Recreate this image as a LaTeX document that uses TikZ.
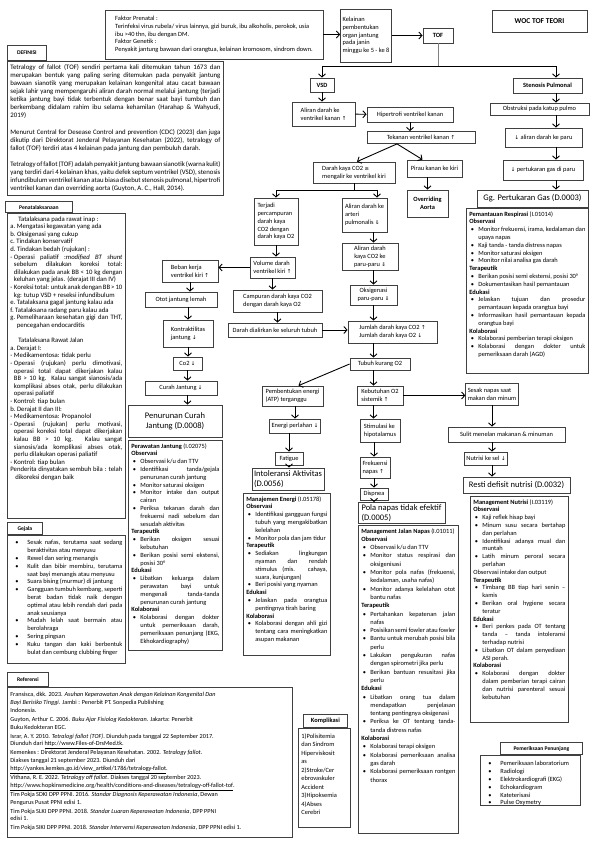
\documentclass[tikz,border=0pt]{standalone}
\usepackage{fontspec}
\setmainfont{Carlito}
\newfontfamily\symf{DejaVu Sans}[Scale=0.85]
\usetikzlibrary{positioning,arrows.meta}

\newcommand{\fs}{\fontsize{6.4}{7.8}\selectfont}
\newcommand{\bigf}{\fontsize{8.5}{10}\selectfont}
\newcommand{\tabf}{\fontsize{5.6}{7}\selectfont\bfseries}
\newcommand{\up}{{\symf\char"2191}}
\newcommand{\dn}{{\symf\char"2193}}
\newcommand{\Dn}{{\symf\char"21D3}}
\newcommand{\gte}{{\symf\char"2265}}
% text helpers for the panels
\newcommand{\pfmt}{\fs\tolerance=9999\emergencystretch=3em\hyphenpenalty=10000\parindent=0pt}
\newcommand{\hd}[1]{\par\noindent\textbf{#1}\par}
\newcommand{\itm}[1]{\par\hangindent=9pt\hangafter=1\noindent\makebox[9pt][l]{\hspace{1.5pt}\textbullet}#1\par}
\newcommand{\gitm}[1]{\par\hangindent=17pt\hangafter=1\noindent\makebox[17pt][l]{\hspace{5pt}\textbullet}#1\par}
\newcommand{\li}[2]{\par\setbox0\hbox{#1\ }\hangindent=\wd0\hangafter=1\noindent\box0 #2\par}
\newcommand{\rf}[1]{\par\hangindent=36pt\hangafter=1\noindent #1\par\vspace{1.2pt}}

\begin{document}
\begin{tikzpicture}[x=1pt,y=-1pt,
box/.style={draw=black!75,line width=0.8pt,fill=white,inner sep=2pt,align=left,font=\fs},
title/.style={box,font=\bigf,align=center},
sz/.style n args={2}{minimum width=#1pt,minimum height=#2pt},
panel/.style={draw=black!75,line width=0.8pt,inner sep=3pt,anchor=north west},
tab/.style={draw=black!75,line width=0.8pt,inner sep=2pt,anchor=south west,font=\tabf,align=left},
arrow/.style={-{Straight Barb[length=3.2pt,width=7pt]},line width=0.9pt}
]
\useasboundingbox[fill=white] (0,0) rectangle (595,842);

% top row
\node[box,sz={218}{49}] (faktor) at (214,34.5) {Faktor Prenatal :\\Terinfeksi virus rubela/ virus lainnya, gizi buruk, ibu alkoholis, perokok, usia\\ibu >40 thn, ibu dengan DM.\\Faktor Genetik :\\Penyakit jantung bawaan dari orangtua, kelainan kromosom, sindrom down.};
\node[box,sz={48}{53}] (kelainan) at (366,35.5) {Kelainan\\pembentukan\\organ jantung\\pada janin\\minggu ke 5 - ke 8};
\node[box,sz={30}{15},font=\fs\bfseries] (tof) at (438,35.5) {TOF};
\node[box,sz={95}{22},font=\fontsize{7.5}{9}\selectfont\bfseries] (woc) at (539.5,21) {WOC TOF TEORI};

\draw[arrow] (faktor.east) -- (faktor.east -| kelainan.west);
\draw[arrow] (kelainan) -- (tof);

% definisi
\node[panel] (defbox) at (7,61) {\parbox[t][128pt][t]{210pt}{\pfmt\fontsize{6.8}{8.1}\selectfont
Tetralogy of fallot (TOF) sendiri pertama kali ditemukan tahun 1673 dan merupakan bentuk yang paling sering ditemukan pada penyakit jantung bawaan sianotik yang merupakan kelainan kongenital atau cacat bawaan sejak lahir yang mempengaruhi aliran darah normal melalui jantung (terjadi ketika jantung bayi tidak terbentuk dengan benar saat bayi tumbuh dan berkembang didalam rahim ibu selama kehamilan (Harahap \& Wahyudi, 2019)\par\vspace{8pt}
Menurut Central for Desease Control and prevention (CDC) (2023) dan juga dikutip dari Direktorat Jenderal Pelayanan Kesehatan (2022), tetralogy of fallot (TOF) terdiri atas 4 kelainan pada jantung dan pembuluh darah.\par\vspace{8pt}
Tetralogy of fallot (TOF) adalah penyakit jantung bawaan sianotik (warna kulit) yang terdiri dari 4 kelainan khas, yaitu defek septum ventrikel (VSD), stenosis infundibulum ventrikel kanan atau biasa disebut stenosis pulmonal, hipertrofi ventrikel kanan dan overriding aorta (Guyton, A. C., Hall, 2014).}};
\node[tab,sz={39}{15}] (deftab) at (defbox.north west) {DEFINISI};

% branch from TOF
\coordinate (brL) at (322,66);
\coordinate (brR) at (556,66);
\node[box,sz={24}{14},font=\fs\bfseries] (vsd) at (322,85) {VSD};
\node[box,sz={69}{15},font=\fs\bfseries] (stenosis) at (547.5,85.5) {Stenosis Pulmonal};
\draw[gray,line width=1pt] (tof.south) -- (tof.south |- brL);
\draw[line width=0.9pt] (brL) -- (brR);
\draw[arrow] (brL) -- (vsd.north);
\draw[arrow] (brR) -- (brR |- stenosis.north);

% VSD branch
\node[box,sz={63}{24}] (aliran1) at (323.5,114) {Aliran darah ke\\ventrikel kanan \up};
\node[box,sz={86}{15}] (hipertrofi) at (410,114.5) {Hipertrofi ventrikel kanan};
\node[box,sz={108}{12}] (tekanan) at (421,137.5) {Tekanan ventrikel kanan \up};
\node[box,sz={82}{21}] (darahco2) at (354,172.5) {Darah kaya CO2 \gte\\mengalir ke ventrikel kiri};
\node[box,sz={55}{17}] (pirau) at (434.5,168.5) {Pirau kanan ke kiri};
\node[box,sz={41}{27},font=\fs\bfseries,align=center] (overriding) at (427.5,203.5) {Overriding\\Aorta};

\draw[arrow] (vsd.south) -- (vsd.south |- aliran1.north);
\draw[arrow] (aliran1) -- (hipertrofi);
\draw[arrow] (hipertrofi.south) -- (hipertrofi.south |- tekanan.north);
\draw[arrow] ([xshift=-24pt]tekanan.south) -- ([xshift=3pt]darahco2.north);
\draw[arrow] ([xshift=-24pt]tekanan.south) -- ([xshift=-12pt]pirau.north);
\draw[arrow] (pirau.south -| overriding.north) -- (overriding.north);

\coordinate (brC1) at (276,190);
\coordinate (brC2) at (377,190);
\node[box,sz={44}{47}] (terjadi) at (276,221.5) {Terjadi\\percampuran\\darah kaya\\CO2 dengan\\darah kaya O2};
\node[box,sz={45}{34}] (aliran2) at (364.5,215) {Aliran darah ke\\arteri\\pulmonalis \Dn};
\draw[line width=0.9pt] (darahco2.south) -- (darahco2.south |- brC1);
\draw[line width=0.9pt] (brC1) -- (brC2);
\draw[arrow] (brC1) -- (terjadi.north);
\draw[arrow] (brC2) -- (brC2 |- aliran2.north);

% left side of the mixing
\node[box,sz={45}{21}] (volume) at (272.5,267.5) {Volume darah\\ventrikel kiri \up};
\node[box,sz={56}{22}] (beban) at (190,271) {Beban kerja\\ventrikel kiri \up};
\node[box,sz={72}{15}] (otot) at (181,299.5) {Otot jantung lemah};
\node[box,sz={50}{27}] (kontrak) at (188,333.5) {Kontraktilitas\\jantung \dn};
\node[box,sz={29}{13}] (co2) at (187.5,363.5) {Co2 \dn};
\node[box,sz={72}{14}] (curah) at (181,388) {Curah Jantung \dn};
\node[title,sz={94}{32}] (penurunan) at (175,421) {Penurunan Curah\\Jantung (D.0008)};
\node[box,sz={89}{22}] (campuran) at (277.5,301) {Campuran darah kaya CO2\\dengan darah kaya O2};
\node[box,sz={94}{14}] (dialirkan) at (275,330) {Darah dialirkan ke seluruh tubuh};

\draw[arrow] (terjadi.south) -- (terjadi.south |- volume.north);
\draw[arrow] (volume.west) -- (volume.west -| beban.east);
\draw[arrow] (volume.south) -- (volume.south |- campuran.north);
\draw[arrow] (campuran.south) -- (campuran.south |- dialirkan.north);
\draw[arrow] (beban.south) -- (beban.south |- otot.north);
\draw[arrow] (otot.south -| kontrak) -- (kontrak.north);
\draw[arrow] (kontrak.south) -- (kontrak.south |- co2.north);
\draw[arrow] (co2.south) -- (co2.south |- curah.north);
\draw[arrow] (curah.south -| co2) -- (penurunan.north -| co2);

% right side of the mixing
\node[box,sz={56}{27},align=center] (aliran3) at (370,256.5) {Aliran darah\\kaya CO2 ke\\paru-paru \Dn};
\node[box,sz={47}{20},align=center] (oksigenasi) at (373.5,295) {Oksigenasi\\paru-paru \Dn};
\node[box,sz={89}{22}] (jumlah) at (392.5,332) {Jumlah darah kaya CO2 \up\\Jumlah darah kaya O2 \dn};
\node[box,sz={60}{12}] (tubuh) at (380,364) {Tubuh kurang O2};

\draw[arrow] (aliran2.south -| oksigenasi) -- (aliran3.north -| oksigenasi);
\draw[arrow] (aliran3.south -| oksigenasi) -- (oksigenasi.north);
\draw[arrow] (oksigenasi.south) -- (oksigenasi.south |- jumlah.north);
\draw[arrow] (dialirkan.east) -- (dialirkan.east -| jumlah.west);
\draw[arrow] (jumlah.south -| oksigenasi) -- (tubuh.north -| oksigenasi);

% below Tubuh kurang O2
\node[box,sz={61}{20}] (pembentukan) at (292.5,396) {Pembentukan energi\\(ATP) terganggu};
\node[box,sz={46}{19}] (kebutuhan) at (380,395.5) {Kebutuhan O2\\sistemik \up};
\node[box,sz={52}{22}] (sesak) at (492,394) {Sesak napas saat\\makan dan minum};
\node[box,sz={117}{15}] (sulit) at (506.5,434.5) {Sulit menelan makanan \& minuman};
\node[box,sz={38}{13}] (nutrisi) at (486,458.5) {Nutrisi ke sel \dn};
\node[title,sz={107}{16}] (resti) at (516.5,485) {Resti defisit nutrisi (D.0032)};
\node[box,sz={50}{14}] (energi) at (295,426) {Energi perlahan \dn};
\node[box,sz={28}{13}] (fatigue) at (289,458.5) {Fatigue};
\node[title,sz={70}{22},align=left] (intoleransi) at (288,479) {Intoleransi Aktivitas\\(D.0056)};
\node[box,sz={40}{23}] (stimulasi) at (380,430.5) {Stimulasi ke\\hipotalamus};
\node[box,sz={30}{21}] (frekuensi) at (375,467.5) {Frekuensi\\napas \up};
\node[box,sz={28}{12}] (dispnea) at (374,494) {Dispnea};
\node[title,sz={87}{20},align=left] (pola) at (401.5,513) {Pola napas tidak efektif\\(D.0005)};

\draw[arrow] (tubuh.west) -- ([xshift=6pt]pembentukan.north);
\draw[arrow] (tubuh.south -| oksigenasi) -- (kebutuhan.north -| oksigenasi);
\draw[arrow] (kebutuhan.east) -- (kebutuhan.east -| sesak.west);
\draw[arrow] (kebutuhan.south -| oksigenasi) -- (stimulasi.north -| oksigenasi);
\draw[arrow] (stimulasi.south -| dispnea) -- (frekuensi.north -| dispnea);
\draw[arrow] (frekuensi.south -| dispnea) -- (dispnea.north);
\draw[arrow] (dispnea.south) -- (dispnea.south |- pola.north);
\draw[arrow] (pembentukan.south -| energi) -- (energi.north);
\draw[arrow] (energi.south -| fatigue) -- (fatigue.north);
\draw[arrow] (fatigue.south) -- (fatigue.south |- intoleransi.north);
\draw[arrow] (sesak.south) -- (sesak.south |- sulit.north);
\draw[arrow] (sulit.south -| sesak) -- (nutrisi.north -| sesak);
\draw[arrow] (nutrisi.south -| sesak) -- (resti.north -| sesak);

% stenosis pulmonal branch
\node[box,sz={99}{12}] (obstruksi) at (539.5,109) {Obstruksi pada katup pulmo};
\node[box,sz={77}{19}] (aliranparu) at (543.5,137.5) {\dn{} aliran darah ke paru};
\node[box,sz={80}{20}] (pertukaran) at (543,170) {\dn{} pertukaran gas di paru};
\node[title,sz={111}{17}] (ggpertukaran) at (532.5,198.5) {Gg. Pertukaran Gas (D.0003)};

\draw[arrow] (stenosis.south -| brR) -- (obstruksi.north -| brR);
\draw[arrow] (obstruksi.south -| brR) -- (aliranparu.north -| brR);
\draw[arrow] (aliranparu.south -| brR) -- (pertukaran.north -| brR);
\draw[arrow] (pertukaran.south -| brR) -- (ggpertukaran.north -| brR);

% intervensi
\node[panel] (pemantauan) at (466,208) {\parbox[t][159pt][t]{116pt}{\pfmt
\textbf{Pemantauan Respirasi} (I.01014)
\hd{Observasi}
\itm{Monitor frekuensi, irama, kedalaman dan upaya napas}
\itm{Kaji tanda - tanda distress napas}
\itm{Monitor saturasi oksigen}
\itm{Monitor nilai analisa gas darah}
\hd{Terapeutik}
\itm{Berikan posisi semi ekstensi, posisi 30°}
\itm{Dokumentasikan hasil pemantauan}
\hd{Edukasi}
\itm{Jelaskan tujuan dan prosedur pemantauan kepada orangtua bayi}
\itm{Informasikan hasil pemantauan kepada orangtua bayi}
\hd{Kolaborasi}
\itm{Kolaborasi pemberian terapi oksigen}
\itm{Kolaborasi dengan dokter untuk pemeriksaan darah (AGD)}}};

\node[panel] (perawatan) at (128,440) {\parbox[t][204pt][t]{88pt}{\pfmt
\textbf{Perawatan Jantung} (I.02075)
\hd{Observasi}
\itm{Observasi k/u dan TTV}
\itm{Identifikasi tanda/gejala penurunan curah jantung}
\itm{Monitor saturasi oksigen}
\itm{Monitor intake dan output cairan}
\itm{Periksa tekanan darah dan frekuensi nadi sebelum dan sesudah aktivitas}
\hd{Terapeutik}
\itm{Berikan oksigen sesuai kebutuhan}
\itm{Berikan posisi semi ekstensi, posisi 30°}
\hd{Edukasi}
\itm{Libatkan keluarga dalam perawatan bayi untuk mengenali tanda-tanda penurunan curah jantung}
\hd{Kolaborasi}
\itm{Kolaborasi dengan dokter untuk pemeriksaan darah, pemeriksaan penunjang (EKG, Ekhokardiography)}}};

\node[panel] (manajemen) at (243,493) {\parbox[t][156pt][t]{81pt}{\pfmt
\textbf{Manajemen Energi} (I.05178)
\hd{Observasi}
\itm{Identifikasi gangguan fungsi tubuh yang mengakibatkan kelelahan}
\itm{Monitor pola dan jam tidur}
\hd{Terapeutik}
\itm{Sediakan lingkungan nyaman dan rendah stimulus (mis. cahaya, suara, kunjungan)}
\itm{Beri posisi yang nyaman}
\hd{Edukasi}
\itm{Jelaskan pada orangtua pentingnya tirah baring}
\hd{Kolaborasi}
\itm{Kolaborasi dengan ahli gizi tentang cara meningkatkan asupan makanan}}};

\node[panel] (jalannapas) at (358,525) {\parbox[t][302pt][t]{94pt}{\pfmt\fontsize{6.4}{8.3}\selectfont
\textbf{Management Jalan Napas} (I.01011)
\hd{Observasi}
\itm{Observasi k/u dan TTV}
\itm{Monitor status respirasi dan oksigenisasi}
\itm{Monitor pola nafas (frekuensi, kedalaman, usaha nafas)}
\itm{Monitor adanya kelelahan otot bantu nafas}
\hd{Terapeutik}
\itm{Pertahankan kepatenan jalan nafas}
\itm{Posisikan semi fowler atau fowler}
\itm{Bantu untuk merubah posisi bila perlu}
\itm{Lakukan pengukuran nafas dengan spirometri jika perlu}
\itm{Berikan bantuan resusitasi jika perlu}
\hd{Edukasi}
\itm{Libatkan orang tua dalam mendapatkan penjelasan tentang pentingnya oksigenasi}
\itm{Periksa ke OT tentang tanda-tanda distress nafas}
\hd{Kolaborasi}
\itm{Kolaborasi terapi oksigen}
\itm{Kolaborasi pemeriksaan analisa gas darah}
\itm{Kolaborasi pemeriksaan rontgen thorax}}};

\node[panel] (nutribox) at (470,496) {\parbox[t][220pt][t]{92pt}{\pfmt
\textbf{Management Nutrisi} (I.03119)
\hd{Observasi}
\itm{Kaji reflek hisap bayi}
\itm{Minum susu secara bertahap dan perlahan}
\itm{Identifikasi adanya mual dan muntah}
\itm{Latih minum peroral secara perlahan}
Observasi intake dan output
\hd{Terapeutik}
\itm{Timbang BB tiap hari senin – kamis}
\itm{Berikan oral hygiene secara teratur}
\hd{Edukasi}
\itm{Beri penkes pada OT tentang tanda – tanda intoleransi terhadap nutrisi}
\itm{Libatkan OT dalam penyediaan ASI perah.}
\hd{Kolaborasi}
\itm{Kolaborasi dengan dokter dalam pemberian terapi cairan dan nutrisi parenteral sesuai kebutuhan}}};

% penatalaksanaan
\node[panel] (penbox) at (7,213) {\parbox[t][299pt][t]{112pt}{\pfmt\fontsize{6.7}{7.6}\selectfont
\hspace*{8pt}Tatalaksana pada rawat inap :\par
\li{a.}{Mengatasi kegawatan yang ada}
\li{b.}{Oksigenasi yang cukup}
\li{c.}{Tindakan konservatif}
\li{d.}{Tindakan bedah (rujukan) :}
\li{-}{Operasi paliatif :\textit{modified BT shunt} sebelum dilakukan koreksi total: dilakukan pada anak BB < 10 kg dengan keluhan yang jelas. (derajat III dan IV)}
\li{-}{Koreksi total: untuk anak dengan BB > 10 kg: tutup VSD + reseksi infundibulum}
\li{e.}{Tatalaksana gagal jantung kalau ada}
\li{f.}{Tatalaksana radang paru kalau ada}
\li{g.}{Pemeliharaan kesehatan gigi dan THT, pencegahan endocarditis}
\vspace{7.6pt}
\hspace*{8pt}Tatalaksana Rawat Jalan\par
\li{a.}{Derajat I:}
\li{-}{Medikamentosa: tidak perlu}
\li{-}{Operasi (rujukan) perlu dimotivasi, operasi total dapat dikerjakan kalau BB > 10 kg. Kalau sangat sianosis/ada komplikasi abses otak, perlu dilakukan operasi paliatif}
\li{-}{Kontrol: tiap bulan}
\li{b.}{Derajat II dan III:}
\li{-}{Medikamentosa: Propanolol}
\li{-}{Operasi (rujukan) perlu motivasi, operasi koreksi total dapat dikerjakan kalau BB > 10 kg. Kalau sangat sianosis/ada komplikasi abses otak, perlu dilakukan operasi paliatif}
\li{-}{Kontrol: tiap bulan}
\par\hangindent=5pt\hangafter=1\noindent Penderita dinyatakan sembuh bila : telah dikoreksi dengan baik\par}};
\node[tab,sz={67}{11}] (pentab) at ([xshift=-2pt]penbox.north west) {Penatalaksanaan};

% gejala
\node[panel] (gejbox) at (7,535) {\parbox[t][122pt][t]{112pt}{\pfmt\vspace*{2pt}
\gitm{Sesak nafas, terutama saat sedang beraktivitas atau menyusu}
\gitm{Rewel dan sering menangis}
\gitm{Kulit dan bibir membiru, terutama saat bayi menangis atau menyusu}
\gitm{Suara bising (murmur) di jantung}
\gitm{Gangguan tumbuh kembang, seperti berat badan tidak naik dengan optimal atau lebih rendah dari pada anak seusianya}
\gitm{Mudah lelah saat bermain atau berolahraga}
\gitm{Sering pingsan}
\gitm{Kuku tangan dan kaki berbentuk bulat dan cembung clubbing finger}}};
\node[tab,sz={35}{12}] (gejtab) at (gejbox.north west) {Gejala};

% referensi
\node[panel] (refbox) at (7,687) {\parbox[t][144pt][t]{279pt}{\pfmt\fontsize{6.2}{7.8}\selectfont\raggedright\vspace*{2pt}
\rf{Fransisca, dkk. 2023. \textit{Asuhan Keperawatan Anak dengan Kelainan Kongenital Dan}\\ \textit{Bayi Berisiko Tinggi}. Jambi : Penerbit PT. Sonpedia Publishing\\ Indonesia.}
\rf{Guyton, Arthur C. 2006. \textit{Buku Ajar Fisiolog Kedokteran}. Jakarta: Penerbit\\ Buku Kedokteran EGC.}
\rf{Israr, A. Y. 2010. \textit{Tetralogi fallot (TOF)}. Diunduh pada tanggal 22 September 2017.\\ Diunduh dari \underline{http://www.Files-of-DrsMed.tk}.}
\rf{Kemenkes : Direktorat Jenderal Pelayanan Kesehatan. 2002. \textit{Tetralogy fallot}.\\ Diakses tanggal 21 september 2023. Diunduh dari\\ \underline{http://yankes.kemkes.go.id/view\_artikel/1786/tetralogy-fallot}.}
\rf{Vithana, R. E. 2022. \textit{Tetralogy off fallot}. Diakses tanggal 20 september 2023.\\ \underline{http://www.hopkinsmedicine.org/health/conditions-and-diseases/tetralogy-off-fallot-tof}.}
\rf{Tim Pokja SDKI DPP PPNI. 2016. \textit{Standar Diagnosis Keperawatan Indonesia}, Dewan\\ Pengurus Pusat PPNI edisi 1.}
\rf{Tim Pokja SLKI DPP PPNI. 2018. \textit{Standar Luaran Keperawatan Indonesia}, DPP PPNI\\ edisi 1.}
\rf{Tim Pokja SIKI DPP PPNI. 2018. \textit{Standar Intervensi Keperawatan Indonesia}, DPP PPNI edisi 1.}}};
\node[tab,sz={41}{14}] (reftab) at (refbox.north west) {Referensi};

% komplikasi
\node[panel] (kombox) at (298,728) {\parbox[t][93pt][t]{46pt}{\pfmt\fontsize{6.4}{8.5}\selectfont\raggedright\vspace*{2pt}
1)Polisitemia\\dan Sindrom\\Hiperviskosit\\as\\2)Stroke/Cer\\ebrovaskuler\\Accident\\3)Hipoksemia\\4)Abses\\Cerebri}};
\node[tab,sz={44}{13},font=\fs\bfseries,align=center] (komtab) at ([xshift=5pt]kombox.north west) {Komplikasi};

% pemeriksaan penunjang
\node[panel] (penunbox) at (480,755) {\parbox[t][44pt][t]{94pt}{\pfmt\vspace*{3pt}
\gitm{Pemeriksaan laboratorium}
\gitm{Radiologi}
\gitm{Elektrokardiografi (EKG)}
\gitm{Echokardiogram}
\gitm{Kateterisasi}
\gitm{Pulse Oxymetry}}};
\node[tab,sz={82}{12}] (penuntab) at ([xshift=20pt]penunbox.north west) {Pemeriksaan Penunjang};

\end{tikzpicture}
\end{document}
